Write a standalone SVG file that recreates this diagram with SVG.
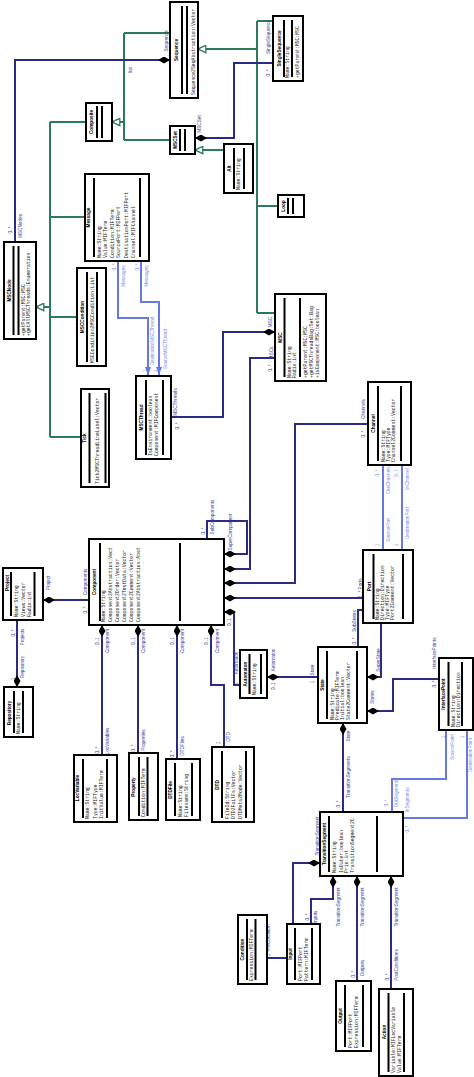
<svg xmlns="http://www.w3.org/2000/svg" width="474" height="1077" viewBox="0 0 474 1077">
<style>
.b{fill:#fff;stroke:#000;stroke-width:2}
.s{stroke:#000;stroke-width:2;fill:none}
.t{font-family:"Liberation Sans",Arial,sans-serif;font-size:4.7px;font-weight:bold;text-anchor:middle;fill:#000}
.a{font-family:"Liberation Mono","DejaVu Sans Mono",monospace;font-size:4.8px;fill:#222}
.k{fill:none;stroke:#2b2b86;stroke-width:2}
.lb{fill:none;stroke:#6877e6;stroke-width:2}
.gr{fill:none;stroke:#2b7a5c;stroke-width:2}
.ld{font-family:"Liberation Sans",Arial,sans-serif;font-size:4.7px;fill:#3b3b98;text-anchor:middle}
.ll{font-family:"Liberation Sans",Arial,sans-serif;font-size:4.7px;fill:#7a88ee;text-anchor:middle}
</style>
<defs>
<marker id="dm" viewBox="0 0 12 7" refX="0" refY="3.5" markerWidth="12" markerHeight="7" markerUnits="userSpaceOnUse" orient="auto"><path d="M0,3.5L6,0L12,3.5L6,7Z" fill="#000"/></marker>
<marker id="tr" viewBox="0 0 9 9" refX="0.5" refY="4.5" markerWidth="9" markerHeight="9" markerUnits="userSpaceOnUse" orient="auto"><path d="M0.7,4.5L8.3,0.8V8.2Z" fill="#fff" stroke="#2b7a5c" stroke-width="1.3"/></marker>
<marker id="ar" viewBox="0 0 8 6" refX="8" refY="3" markerWidth="8" markerHeight="6" markerUnits="userSpaceOnUse" orient="auto"><path d="M0,0L8,3L0,6Z" fill="#6877e6"/></marker>
</defs>
<rect width="474" height="1077" fill="#fff"/>
<g id="connectors">
<path class="gr" d="M257,21V313M257,21H273M257,206H278M257,313H275"/>
<path class="gr" d="M198,49H257" marker-start="url(#tr)"/>
<path class="gr" d="M195,150H224" marker-start="url(#tr)"/>
<path class="gr" d="M124,33V140M124,33H170M124,140H170"/>
<path class="gr" d="M112,122H124" marker-start="url(#tr)"/>
<path class="gr" d="M50,122V437M50,122H86M50,217H85M50,317H77M50,437H81"/>
<path class="gr" d="M36,307H50" marker-start="url(#tr)"/>
<path class="k" d="M170,60H15V242" marker-start="url(#dm)"/>
<path class="k" d="M195,138H234V63H273" marker-start="url(#dm)"/>
<path class="k" d="M275,332H223V417H171" marker-start="url(#dm)"/>
<path class="k" d="M224,554H247V521H207V539" marker-start="url(#dm)"/>
<path class="k" d="M224,569H250V358H275" marker-start="url(#dm)"/>
<path class="k" d="M224,583H295V424H368" marker-start="url(#dm)"/>
<path class="k" d="M224,598H363" marker-start="url(#dm)"/>
<path class="k" d="M224,612H234V685H240" marker-start="url(#dm)"/>
<path class="k" d="M43,600H89" marker-start="url(#dm)"/>
<path class="k" d="M17,687V620" marker-start="url(#dm)"/>
<path class="k" d="M102,625V755" marker-start="url(#dm)"/>
<path class="k" d="M138,625V753" marker-start="url(#dm)"/>
<path class="k" d="M177,625V759" marker-start="url(#dm)"/>
<path class="k" d="M211,625V685H224V747" marker-start="url(#dm)"/>
<path class="k" d="M267,677H318" marker-start="url(#dm)"/>
<path class="k" d="M367,677H381V610H358V647" marker-start="url(#dm)"/>
<path class="k" d="M367,711H393V679H439" marker-start="url(#dm)"/>
<path class="k" d="M343,723V812" marker-start="url(#dm)"/>
<path class="k" d="M320,863H293V924" marker-start="url(#dm)"/>
<path class="k" d="M333,876V899H311V924" marker-start="url(#dm)"/>
<path class="k" d="M357,876V981" marker-start="url(#dm)"/>
<path class="k" d="M391,876V989" marker-start="url(#dm)"/>
<path class="k" d="M267,958H287"/>
<path class="lb" d="M118,261V318H148V375" marker-end="url(#ar)"/>
<path class="lb" d="M141,261V302H159V375" marker-end="url(#ar)"/>
<path class="lb" d="M383,465V550M402,465V550"/>
<path class="lb" d="M446,731V779H392V812"/>
<path class="lb" d="M467,731V818H403"/>
<text class="ld" transform="translate(167.5,41) rotate(-90)">Sequence</text>
<text class="ld" transform="translate(131.5,70) rotate(-90)">list</text>
<text class="ld" transform="translate(11.5,230) rotate(-90)">0..*</text>
<text class="ld" transform="translate(21.5,226) rotate(-90)">MSCNodes</text>
<text class="ld" transform="translate(200.5,124) rotate(-90)">MSCSet</text>
<text class="ld" transform="translate(269.5,37) rotate(-90)">SingleSequence</text>
<text class="ld" transform="translate(269.5,73) rotate(-90)">0..*</text>
<text class="ld" transform="translate(271.5,322) rotate(-90)">MSC</text>
<text class="ld" transform="translate(176.5,402) rotate(-90)">MSCThreads</text>
<text class="ld" transform="translate(178.5,426) rotate(-90)">0..*</text>
<text class="ld" transform="translate(273,353) rotate(-90)">MSCs</text>
<text class="ld" transform="translate(272,368) rotate(-90)">0..*</text>
<text class="ld" transform="translate(364.5,409) rotate(-90)">Channels</text>
<text class="ld" transform="translate(364.5,434) rotate(-90)">0..*</text>
<text class="ld" transform="translate(362,584) rotate(-90)">Ports</text>
<text class="ld" transform="translate(362,594) rotate(-90)">1..*</text>
<text class="ld" transform="translate(356,621) rotate(-90)">SubStates</text>
<text class="ld" transform="translate(356,641) rotate(-90)">0..*</text>
<text class="ld" transform="translate(379.5,660) rotate(-90)">SuperState</text>
<text class="ld" transform="translate(374,697) rotate(-90)">States</text>
<text class="ld" transform="translate(435.5,653) rotate(-90)">InterfacePoints</text>
<text class="ld" transform="translate(435.5,684) rotate(-90)">0..*</text>
<text class="ld" transform="translate(237.5,663) rotate(-90)">Automaton</text>
<text class="ld" transform="translate(237.5,684) rotate(-90)">1</text>
<text class="ld" transform="translate(230.5,622) rotate(-90)">0..1</text>
<text class="ld" transform="translate(274.5,660) rotate(-90)">Automaton</text>
<text class="ld" transform="translate(274.5,686) rotate(-90)">0..1</text>
<text class="ld" transform="translate(313.5,670) rotate(-90)">State</text>
<text class="ld" transform="translate(313.5,682) rotate(-90)">1</text>
<text class="ld" transform="translate(349.5,736) rotate(-90)">State</text>
<text class="ld" transform="translate(349.5,777) rotate(-90)">TransitionSegments</text>
<text class="ld" transform="translate(339.5,804) rotate(-90)">0..*</text>
<text class="ld" transform="translate(86.5,582) rotate(-90)">Components</text>
<text class="ld" transform="translate(86.5,610) rotate(-90)">0..*</text>
<text class="ld" transform="translate(49.5,583) rotate(-90)">Project</text>
<text class="ld" transform="translate(14.5,633) rotate(-90)">0..*</text>
<text class="ld" transform="translate(23.5,637) rotate(-90)">Projects</text>
<text class="ld" transform="translate(23.5,667) rotate(-90)">Repository</text>
<text class="ld" transform="translate(14.5,679) rotate(-90)">1</text>
<text class="ld" transform="translate(98.5,641) rotate(-90)">0..1</text>
<text class="ld" transform="translate(108.5,641) rotate(-90)">Component</text>
<text class="ld" transform="translate(98.5,750) rotate(-90)">0..*</text>
<text class="ld" transform="translate(108.5,741) rotate(-90)">LocVariables</text>
<text class="ld" transform="translate(134.5,641) rotate(-90)">0..1</text>
<text class="ld" transform="translate(144.5,641) rotate(-90)">Component</text>
<text class="ld" transform="translate(134.5,748) rotate(-90)">0..*</text>
<text class="ld" transform="translate(144.5,740) rotate(-90)">Properties</text>
<text class="ld" transform="translate(173.5,641) rotate(-90)">0..1</text>
<text class="ld" transform="translate(183.5,641) rotate(-90)">Component</text>
<text class="ld" transform="translate(173.5,754) rotate(-90)">0..*</text>
<text class="ld" transform="translate(183.5,746) rotate(-90)">DTDFiles</text>
<text class="ld" transform="translate(207.5,641) rotate(-90)">0..1</text>
<text class="ld" transform="translate(218.5,641) rotate(-90)">Component</text>
<text class="ld" transform="translate(220,743) rotate(-90)">1</text>
<text class="ld" transform="translate(229.5,737) rotate(-90)">DTD</text>
<text class="ld" transform="translate(204.5,531) rotate(-90)">0..*</text>
<text class="ld" transform="translate(213.5,517) rotate(-90)">SubComponents</text>
<text class="ld" transform="translate(231.5,532) rotate(-90)">SuperComponent</text>
<text class="ld" transform="translate(318.5,836) rotate(-90)">TransitionSegment</text>
<text class="ld" transform="translate(339.5,907) rotate(-90)">TransitionSegment</text>
<text class="ld" transform="translate(308.5,917) rotate(-90)">0..*</text>
<text class="ld" transform="translate(316.5,917) rotate(-90)">Inputs</text>
<text class="ld" transform="translate(363.5,907) rotate(-90)">TransitionSegment</text>
<text class="ld" transform="translate(354.5,974) rotate(-90)">0..*</text>
<text class="ld" transform="translate(363.5,968) rotate(-90)">Outputs</text>
<text class="ld" transform="translate(397.5,907) rotate(-90)">TransitionSegment</text>
<text class="ld" transform="translate(388.5,977) rotate(-90)">0..*</text>
<text class="ld" transform="translate(397.5,965) rotate(-90)">PostConditions</text>
<text class="ld" transform="translate(269.5,938) rotate(-90)">PreCondition</text>
<text class="ld" transform="translate(269.5,955) rotate(-90)">1</text>
<text class="ll" transform="translate(115.5,267) rotate(-90)">0..*</text>
<text class="ll" transform="translate(124.5,276) rotate(-90)">Messages</text>
<text class="ll" transform="translate(138.5,267) rotate(-90)">0..*</text>
<text class="ll" transform="translate(147.5,276) rotate(-90)">Messages</text>
<text class="ll" transform="translate(153.5,341) rotate(-90)">DestinationMSCThread</text>
<text class="ll" transform="translate(146.5,371) rotate(-90)">1</text>
<text class="ll" transform="translate(166.5,349) rotate(-90)">SourceMSCThread</text>
<text class="ll" transform="translate(156.5,371) rotate(-90)">1</text>
<text class="ll" transform="translate(378.5,473) rotate(-90)">0..*</text>
<text class="ll" transform="translate(389.5,480) rotate(-90)">OutChannels</text>
<text class="ll" transform="translate(389.5,530) rotate(-90)">SourcePort</text>
<text class="ll" transform="translate(378.5,545) rotate(-90)">1</text>
<text class="ll" transform="translate(397.5,473) rotate(-90)">0..1</text>
<text class="ll" transform="translate(408.5,479) rotate(-90)">InChannel</text>
<text class="ll" transform="translate(408.5,523) rotate(-90)">DestinationPort</text>
<text class="ll" transform="translate(397.5,545) rotate(-90)">1</text>
<text class="ll" transform="translate(444.5,737) rotate(-90)">1</text>
<text class="ll" transform="translate(453.5,747) rotate(-90)">SourcePoint</text>
<text class="ll" transform="translate(387.5,803) rotate(-90)">0..*</text>
<text class="ll" transform="translate(397.5,793) rotate(-90)">OutSegments</text>
<text class="ll" transform="translate(463.5,737) rotate(-90)">1</text>
<text class="ll" transform="translate(471.5,755) rotate(-90)">DestinationPoint</text>
<text class="ll" transform="translate(408.5,829) rotate(-90)">0..*</text>
<text class="ll" transform="translate(408.5,800) rotate(-90)">InSegments</text>
</g>
<g id="Sequence"><rect class="b" x="170" y="2" width="28" height="96"/><path class="s" d="M182,6V94M187,6V94"/><text class="t" transform="translate(178,50) rotate(-90)">Sequence</text><text class="a" transform="translate(195,95) rotate(-90)">Sequence2SeqAbstraction:Vector</text></g>
<g id="SingleSequence"><rect class="b" x="273" y="16" width="30" height="65"/><path class="s" d="M284,20V77M292,20V77"/><text class="t" transform="translate(281,48.5) rotate(-90)">SingleSequence</text><text class="a" transform="translate(289,78) rotate(-90)">Name:String</text><text class="a" transform="translate(299,78) rotate(-90)">+getParent:MSC:MSC</text></g>
<g id="Alt"><rect class="b" x="224" y="144" width="29" height="49"/><path class="s" d="M234,148V189M244,148V189"/><text class="t" transform="translate(231,168.5) rotate(-90)">Alt</text><text class="a" transform="translate(240,190) rotate(-90)">Name:String</text></g>
<g id="Loop"><rect class="b" x="278" y="195" width="26" height="22"/><path class="s" d="M288,198V214M293,198V214"/><text class="t" transform="translate(285,206) rotate(-90)">Loop</text></g>
<g id="MSCSet"><rect class="b" x="170" y="126" width="25" height="28"/><path class="s" d="M180,129V151M185,129V151"/><text class="t" transform="translate(176.5,140) rotate(-90)">MSCSet</text></g>
<g id="Composite"><rect class="b" x="86" y="103" width="26" height="38"/><path class="s" d="M97,106V138M102,106V138"/><text class="t" transform="translate(93,122) rotate(-90)">Composite</text></g>
<g id="MSCNode"><rect class="b" x="4" y="242" width="32" height="97"/><path class="s" d="M13.5,246V335M18.5,246V335"/><text class="t" transform="translate(10.8,290.5) rotate(-90)">MSCNode</text><text class="a" transform="translate(25,336) rotate(-90)">+getParent:MSC:MSC</text><text class="a" transform="translate(30,336) rotate(-90)">+getAllMSCThreads:Enumeration</text></g>
<g id="Message"><rect class="b" x="85" y="174" width="64" height="87"/><path class="s" d="M94,178V257M140,178V257"/><text class="t" transform="translate(90,217.5) rotate(-90)">Message</text><text class="a" transform="translate(100.5,258) rotate(-90)">Name:String</text><text class="a" transform="translate(107,258) rotate(-90)">Value:MIFTerm</text><text class="a" transform="translate(113.5,258) rotate(-90)">Condition:MIFTerm</text><text class="a" transform="translate(120,258) rotate(-90)">SourcePort:MIFPort</text><text class="a" transform="translate(128,258) rotate(-90)">DestinationPort:MIFPort</text><text class="a" transform="translate(135,258) rotate(-90)">Channel:MIFChannel</text></g>
<g id="MSCCondition"><rect class="b" x="77" y="268" width="29" height="98"/><path class="s" d="M87,272V362M97,272V362"/><text class="t" transform="translate(83.5,317) rotate(-90)">MSCCondition</text><text class="a" transform="translate(93.5,363) rotate(-90)">MSCCondition2MSCCondition:List</text></g>
<g id="Tick"><rect class="b" x="81" y="389" width="28" height="98"/><path class="s" d="M89.5,393V483M105.5,393V483"/><text class="t" transform="translate(86,438) rotate(-90)">Tick</text><text class="a" transform="translate(98.5,484) rotate(-90)">Tick2MSCThreadLineLabel:Vector</text></g>
<g id="MSCThread"><rect class="b" x="136" y="376" width="35" height="83"/><path class="s" d="M146,380V455M163,380V455"/><text class="t" transform="translate(142.5,417.5) rotate(-90)">MSCThread</text><text class="a" transform="translate(151.5,456) rotate(-90)">IsEnvironment:boolean</text><text class="a" transform="translate(157.5,456) rotate(-90)">Component:MIFComponent</text></g>
<g id="MSC"><rect class="b" x="275" y="294" width="51" height="87"/><path class="s" d="M284.5,298V377M300,298V377"/><text class="t" transform="translate(281.5,337.5) rotate(-90)">MSC</text><text class="a" transform="translate(290.5,378) rotate(-90)">Name:String</text><text class="a" transform="translate(296,378) rotate(-90)">Radix:int</text><text class="a" transform="translate(306.5,378) rotate(-90)">+getParent:MSC:MSC</text><text class="a" transform="translate(312.5,378) rotate(-90)">+getMSCThreadsBag:Set:Bag</text><text class="a" transform="translate(318.5,378) rotate(-90)">+isComponent:MSC:boolean</text></g>
<g id="Channel"><rect class="b" x="368" y="382" width="43" height="83"/><path class="s" d="M378,386V461M401,386V461"/><text class="t" transform="translate(374.5,423.5) rotate(-90)">Channel</text><text class="a" transform="translate(384.5,462) rotate(-90)">Name:String</text><text class="a" transform="translate(389.5,462) rotate(-90)">Type:MIFType</text><text class="a" transform="translate(394.5,462) rotate(-90)">Channel2Comment:Vector</text></g>
<g id="Port"><rect class="b" x="363" y="550" width="50" height="73"/><path class="s" d="M373.5,554V619M403,554V619"/><text class="t" transform="translate(370.5,586.5) rotate(-90)">Port</text><text class="a" transform="translate(378.5,620) rotate(-90)">Name:String</text><text class="a" transform="translate(383.5,620) rotate(-90)">Direction:Direction</text><text class="a" transform="translate(388.5,620) rotate(-90)">Type:MIFType</text><text class="a" transform="translate(393.5,620) rotate(-90)">Port2Comment:Vector</text></g>
<g id="Component"><rect class="b" x="89" y="539" width="135" height="86"/><path class="s" d="M100,543V621M180,543V621"/><text class="t" transform="translate(96,582) rotate(-90)">Component</text><text class="a" transform="translate(104.5,622) rotate(-90)">Name:String</text><text class="a" transform="translate(111.5,622) rotate(-90)">Component2Abstraction:Vect</text><text class="a" transform="translate(118.5,622) rotate(-90)">Component2Order:Vector</text><text class="a" transform="translate(125.5,622) rotate(-90)">Component2TestData:Vector</text><text class="a" transform="translate(132.5,622) rotate(-90)">Component2Comment:Vector</text><text class="a" transform="translate(139.5,622) rotate(-90)">Component2Abstraction:Abst</text></g>
<g id="Project"><rect class="b" x="3" y="568" width="40" height="52"/><path class="s" d="M11,572V616M34.5,572V616"/><text class="t" transform="translate(8.5,583) rotate(-90)">Project</text><text class="a" transform="translate(17.5,617) rotate(-90)">Name:String</text><text class="a" transform="translate(24.5,617) rotate(-90)">Views:Vector</text><text class="a" transform="translate(30.5,617) rotate(-90)">Radix:int</text></g>
<g id="Repository"><rect class="b" x="4" y="687" width="29" height="50"/><path class="s" d="M14,691V733M23,691V733"/><text class="t" transform="translate(10.5,713) rotate(-90)">Repository</text><text class="a" transform="translate(19.5,734) rotate(-90)">Name:String</text></g>
<g id="LocVariable"><rect class="b" x="74" y="755" width="43" height="67"/><path class="s" d="M83,759V818M107,759V818"/><text class="t" transform="translate(79,788) rotate(-90)">LocVariable</text><text class="a" transform="translate(89,819) rotate(-90)">Name:String</text><text class="a" transform="translate(96.5,819) rotate(-90)">Type:MIFType</text><text class="a" transform="translate(103,819) rotate(-90)">InitValue:MIFTerm</text></g>
<g id="Property"><rect class="b" x="129" y="753" width="29" height="67"/><path class="s" d="M139,757V816M147.5,757V816"/><text class="t" transform="translate(135,787) rotate(-90)">Property</text><text class="a" transform="translate(145,817) rotate(-90)">Condition:MIFTerm</text></g>
<g id="DTDFile"><rect class="b" x="166" y="759" width="34" height="61"/><path class="s" d="M175,763V816M192,763V816"/><text class="t" transform="translate(171.5,790) rotate(-90)">DTDFile</text><text class="a" transform="translate(181.5,817) rotate(-90)">Name:String</text><text class="a" transform="translate(187.5,817) rotate(-90)">Filename:String</text></g>
<g id="DTD"><rect class="b" x="212" y="747" width="42" height="75"/><path class="s" d="M222,751V818M246,751V818"/><text class="t" transform="translate(218.5,785) rotate(-90)">DTD</text><text class="a" transform="translate(228.5,819) rotate(-90)">FileId:String</text><text class="a" transform="translate(235,819) rotate(-90)">DTD2FailFs:Vector</text><text class="a" transform="translate(241.5,819) rotate(-90)">DTDMeta2Mode:Vector</text></g>
<g id="Automaton"><rect class="b" x="240" y="650" width="27" height="48"/><path class="s" d="M249.5,654V694M261,654V694"/><text class="t" transform="translate(246.5,674) rotate(-90)">Automaton</text><text class="a" transform="translate(256,695) rotate(-90)">Name:String</text></g>
<g id="State"><rect class="b" x="318" y="647" width="49" height="76"/><path class="s" d="M327,651V719M357,651V719"/><text class="t" transform="translate(323.5,685) rotate(-90)">State</text><text class="a" transform="translate(333.5,720) rotate(-90)">Name:String</text><text class="a" transform="translate(338.5,720) rotate(-90)">Predicate:MIFTerm</text><text class="a" transform="translate(344,720) rotate(-90)">Initial:boolean</text><text class="a" transform="translate(349.5,720) rotate(-90)">State2Comment:Vector</text></g>
<g id="InterfacePoint"><rect class="b" x="439" y="658" width="34" height="72"/><path class="s" d="M448.5,662V726M462,662V726"/><text class="t" transform="translate(445,694) rotate(-90)">InterfacePoint</text><text class="a" transform="translate(454.5,727) rotate(-90)">Name:String</text><text class="a" transform="translate(459.5,727) rotate(-90)">Direction:Direction</text></g>
<g id="TransitionSegment"><rect class="b" x="320" y="812" width="83" height="64"/><path class="s" d="M329,816V872M377,816V872"/><text class="t" transform="translate(325.5,844) rotate(-90)">TransitionSegment</text><text class="a" transform="translate(336,873) rotate(-90)">Name:String</text><text class="a" transform="translate(342.5,873) rotate(-90)">IsOuter:boolean</text><text class="a" transform="translate(348,873) rotate(-90)">Prio:int</text><text class="a" transform="translate(354,873) rotate(-90)">TransitionSegment2C</text></g>
<g id="Input"><rect class="b" x="287" y="924" width="33" height="60"/><path class="s" d="M295,928V980M312,928V980"/><text class="t" transform="translate(291.5,954) rotate(-90)">Input</text><text class="a" transform="translate(301.5,981) rotate(-90)">Port:MIFPort</text><text class="a" transform="translate(307.5,981) rotate(-90)">Pattern:MIFTerm</text></g>
<g id="Condition"><rect class="b" x="238" y="915" width="29" height="69"/><path class="s" d="M247,919V980M255.5,919V980"/><text class="t" transform="translate(244,949.5) rotate(-90)">Condition</text><text class="a" transform="translate(252.5,981) rotate(-90)">Expression:MIFTerm</text></g>
<g id="Output"><rect class="b" x="336" y="981" width="35" height="70"/><path class="s" d="M345,985V1047M363,985V1047"/><text class="t" transform="translate(341.5,1016) rotate(-90)">Output</text><text class="a" transform="translate(351.5,1048) rotate(-90)">Port:MIFPort</text><text class="a" transform="translate(358,1048) rotate(-90)">Expression:MIFTerm</text></g>
<g id="Action"><rect class="b" x="379" y="989" width="34" height="87"/><path class="s" d="M388.5,993V1072M404,993V1072"/><text class="t" transform="translate(385.5,1032) rotate(-90)">Action</text><text class="a" transform="translate(394.5,1073) rotate(-90)">Variable:MIFLocVariable</text><text class="a" transform="translate(400.5,1073) rotate(-90)">Value:MIFTerm</text></g>
</svg>
